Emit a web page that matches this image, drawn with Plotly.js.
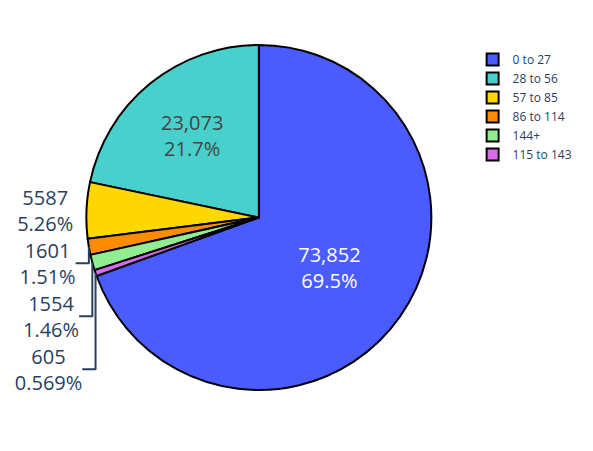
<!DOCTYPE html>
<html>
<head>
<meta charset="utf-8">
<script src="https://cdn.plot.ly/plotly-3.0.1.min.js"></script>
<style>html,body{margin:0;padding:0;background:#fff;}#chart{width:593px;height:451px;}</style>
</head>
<body>
<div id="chart"></div>
<script>
var labels = ["0 to 27", "28 to 56", "57 to 85", "86 to 114", "144+", "115 to 143"];
var values = [73852, 23073, 5587, 1601, 1554, 605];
var colors = ["#4A5CFF", "#48D1CC", "#FFD700", "#FF8C00", "#90EE90", "#DA6BEA"];

var data = [{
  type: "pie",
  labels: labels,
  values: values,
  marker: {colors: colors, line: {color: "#000000", width: 2}},
  textinfo: "value+percent",
  textfont: {size: 20},
  direction: "counterclockwise",
  domain: {x: [0, 0.873], y: [0, 1]}
}];

var layout = {
  width: 593,
  height: 451,
  margin: {l: 0, r: 0, t: 45, b: 61},
  font: {family: "Open Sans, sans-serif", color: "#2a3f5f"},
  paper_bgcolor: "#ffffff",
  showlegend: true,
  legend: {x: 0.797, y: 1, xanchor: "left", yanchor: "top", font: {size: 12}}
};

Plotly.newPlot("chart", data, layout, {displayModeBar: false});
</script>
</body>
</html>
